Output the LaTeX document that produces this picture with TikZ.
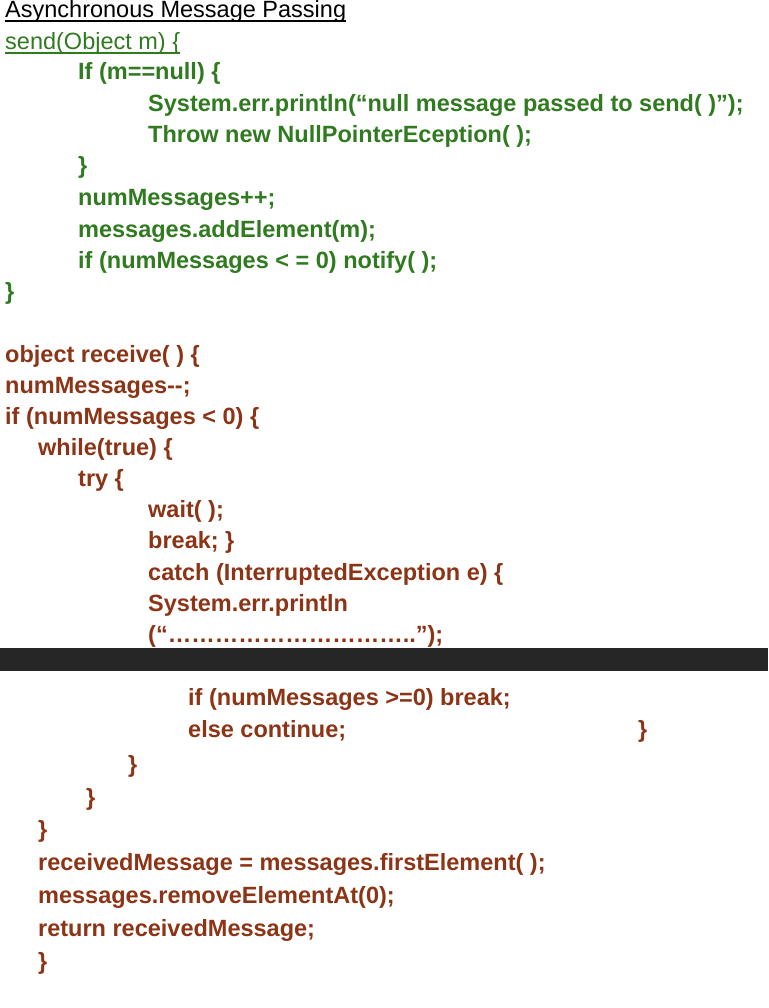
\documentclass[tikz,border=0pt]{standalone}
\usepackage{fontspec}
\setmainfont{Liberation Sans}
\definecolor{cgreen}{RGB}{48,122,32}
\definecolor{cbrown}{RGB}{140,52,22}
\definecolor{cbar}{RGB}{38,38,38}
\begin{document}
\begin{tikzpicture}[x=1pt,y=-1pt,
  t/.style={anchor=base west,inner sep=0pt,font=\fontsize{23.5}{28}\selectfont},
  g/.style={t,text=cgreen,font=\fontsize{23.5}{28}\selectfont\bfseries},
  b/.style={t,text=cbrown,font=\fontsize{23.5}{28}\selectfont\bfseries}]
\useasboundingbox (0,0) rectangle (768,1008);
\fill[cbar] (0,648) rectangle (768,671);
\node[t] (h) at (5,18) {Asynchronous Message Passing};
\draw[line width=1.5pt] ([yshift=-3pt]h.base west) -- ([yshift=-3pt]h.base east);
\node[t,text=cgreen] (s0) at (5,50) {send(Object m) \{};
\draw[cgreen,line width=1.5pt] ([yshift=-3pt]s0.base west) -- ([yshift=-3pt]s0.base east);
\node[g] (s1) at (78,80) {If (m==null) \{};
\node[g] (s2) at (148,112) {System.err.println(“null message passed to send( )”);};
\node[g] (s3) at (148,143) {Throw new NullPointerEception( );};
\node[g] (s4) at (78,174) {\}};
\node[g] (s5) at (78,206) {numMessages++;};
\node[g] (s6) at (78,237) {messages.addElement(m);};
\node[g] (s7) at (78,268) {if (numMessages < = 0) notify( );};
\node[g] (s8) at (5,299) {\}};
\node[b] (r0) at (5,362) {object receive( ) \{};
\node[b] (r1) at (5,393) {numMessages-{}-;};
\node[b] (r2) at (5,424) {if (numMessages < 0) \{};
\node[b] (r3) at (38,455) {while(true) \{};
\node[b] (r4) at (78,486) {try \{};
\node[b] (r5) at (148,517) {wait( );};
\node[b] (r6) at (148,548) {break; \}};
\node[b] (r7) at (148,580) {catch (InterruptedException e) \{};
\node[b] (r8) at (148,611) {System.err.println};
\node[b] (r9) at (148,642) {(“…………………………..”);};
\node[b] (q1) at (188,705) {if (numMessages >=0) break;};
\node[b] (q2) at (188,737) {else continue;};
\node[b] (q3) at (638,737) {\}};
\node[b] (q4) at (128,772) {\}};
\node[b] (q5) at (86,805) {\}};
\node[b] (q6) at (38,837) {\}};
\node[b] (q7) at (38,870) {receivedMessage = messages.firstElement( );};
\node[b] (q8) at (38,903) {messages.removeElementAt(0);};
\node[b] (q9) at (38,936) {return receivedMessage;};
\node[b] (q10) at (38,969) {\}};
\end{tikzpicture}
\end{document}
